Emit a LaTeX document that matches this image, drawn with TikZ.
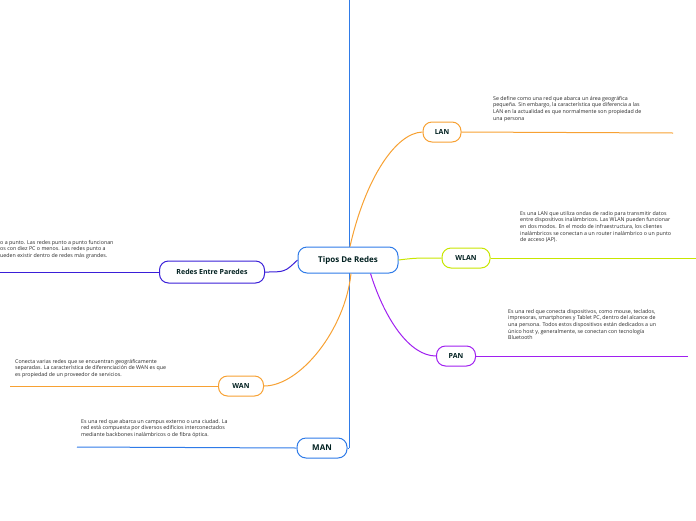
\documentclass[tikz,border=0pt]{standalone}
\usepackage{fontspec}
\setmainfont{Open Sans}
\begin{document}
\begin{tikzpicture}[x=1pt,y=-1pt,
 topic/.style={draw=#1,line width=1pt,rounded corners=9pt,fill=white,font=\fontsize{7}{8}\selectfont\bfseries,text=black!75!teal,inner sep=0pt,minimum height=20pt},
 desc/.style={font=\fontsize{5.3}{6.6}\selectfont,align=left,anchor=north west,inner sep=0pt,text=black!85},
 br/.style={draw=#1,line width=1pt}]
\useasboundingbox (0,0) rectangle (696,520);
\definecolor{cblue}{HTML}{2F7BE8}\definecolor{corg}{HTML}{F7A133}
\definecolor{cyel}{HTML}{C8E600}\definecolor{cpur}{HTML}{A020F0}\definecolor{cind}{HTML}{3A1FD8}
% trunk
\coordinate (top) at (349,0);
\draw[br=cblue] (top) -- (349,448);
\node[topic=cblue,minimum width=50pt,font=\fontsize{8}{9}\selectfont\bfseries] (man) at (322,448) {MAN};
\draw[br=cblue] (349,448) -- (man.east);
\coordinate (manE) at (77,447);
\draw[br=cblue] (man.west) -- (manE);
\node[desc] at (81,419) {Es una red que abarca un campus externo o una ciudad. La\\red está compuesta por diversos edificios interconectados\\mediante backbones inalámbricos o de fibra óptica.};
\node[topic=cblue,minimum width=100pt,minimum height=26pt,font=\fontsize{8}{9}\selectfont\bfseries] (c) at (348,260) {Tipos De Redes};
% LAN
\node[topic=corg,minimum width=38pt] (lan) at (442,132) {LAN};
\draw[br=corg] (c.north) ++(2,0) .. controls (365,180) and (395,133) .. (lan.west);
\coordinate (lanE) at (673,133);
\draw[br=corg] (lan.east) -- (lanE);
\node[desc] at (493,96) {Se define como una red que abarca un área geográfica\\pequeña. Sin embargo, la característica que diferencia a las\\LAN en la actualidad es que normalmente son propiedad de\\una persona};
% WLAN
\node[topic=cyel,minimum width=48pt] (wlan) at (466,258) {WLAN};
\draw[br=cyel] (c.east) .. controls (415,258) .. (wlan.west);
\coordinate (wlanE) at (696,258);
\draw[br=cyel] (wlan.east) -- (wlanE);
\node[desc] at (520,211) {Es una LAN que utiliza ondas de radio para transmitir datos\\entre dispositivos inalámbricos. Las WLAN pueden funcionar\\en dos modos. En el modo de infraestructura, los clientes\\inalámbricos se conectan a un router inalámbrico o un punto\\de acceso (AP).};
% PAN
\node[topic=cpur,minimum width=39pt] (pan) at (456,356) {PAN};
\draw[br=cpur] (c.south east) ++(-28,0) .. controls (385,320) and (410,356) .. (pan.west);
\coordinate (panE) at (688,356);
\draw[br=cpur] (pan.east) -- (panE);
\node[desc] at (508,309) {Es una red que conecta dispositivos, como mouse, teclados,\\impresoras, smartphones y Tablet PC, dentro del alcance de\\una persona. Todos estos dispositivos están dedicados a un\\único host y, generalmente, se conectan con tecnología\\Bluetooth};
% WAN
\node[topic=corg,minimum width=45pt] (wan) at (241,386) {WAN};
\draw[br=corg] (c.south) ++(3,0) .. controls (345,330) and (300,386) .. (wan.east);
\coordinate (wanE) at (10,386);
\draw[br=corg] (wan.west) -- (wanE);
\node[desc] at (15,359) {Conecta varias redes que se encuentran geográficamente\\separadas. La característica de diferenciación de WAN es que\\es propiedad de un proveedor de servicios.};
% Redes Entre Paredes
\node[topic=cind,minimum width=105pt,minimum height=22pt] (rep) at (212,272) {Redes Entre Paredes};
\draw[br=cind] (c.west) .. controls (285,272) .. (rep.east);
\coordinate (repE) at (0,272);
\draw[br=cind] (rep.west) -- (repE);
\node[desc] at (0,240) {o a punto. Las redes punto a punto funcionan\\os con diez PC o menos. Las redes punto a\\ueden existir dentro de redes más grandes.};
\end{tikzpicture}
\end{document}
